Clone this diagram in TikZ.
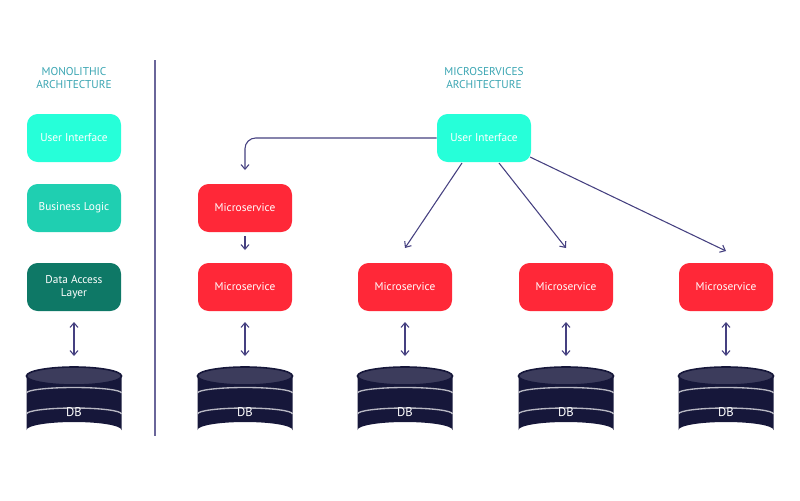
\documentclass[tikz,border=0pt]{standalone}
\usepackage{fontspec}
\setmainfont{PT Sans}
\usetikzlibrary{arrows.meta}
\definecolor{ui}{HTML}{26FFD9}
\definecolor{bl}{HTML}{1FCFB1}
\definecolor{dal}{HTML}{0E7866}
\definecolor{ms}{HTML}{FF2838}
\definecolor{arr}{HTML}{454080}
\definecolor{dbc}{HTML}{16173A}
\definecolor{dbt}{HTML}{3C3C5C}
\definecolor{ttl}{HTML}{3AA5B2}
\begin{document}
\begin{tikzpicture}[x=0.75pt,y=-0.75pt,
 box/.style={rounded corners=8pt,minimum width=70.5pt,minimum height=36pt,text=white,font=\fontsize{8.5}{10}\selectfont,align=center,inner sep=1pt},
 a/.style={draw=arr,line width=0.8pt,-{Straight Barb[length=3.5pt,width=6pt]}},
 aa/.style={draw=arr,line width=0.8pt,{Straight Barb[length=3.5pt,width=6pt]}-{Straight Barb[length=3.5pt,width=6pt]}},
 ttl/.style={text=ttl,font=\fontsize{8.5}{10}\selectfont,align=center}]
\useasboundingbox (0,0) rectangle (800,500);
\newcommand{\dbshape}[2]{%
 \begin{scope}[shift={(#1,0)}]
 \fill[dbc] (-47.5,376) -- (-47.5,430) arc[start angle=180,end angle=360,x radius=47.5,y radius=8] -- (47.5,376) -- cycle;
 \draw[white!70!dbc,line width=1pt] (-47.5,393) arc[start angle=180,end angle=360,x radius=47.5,y radius=5.5];
 \draw[white!70!dbc,line width=1pt] (-47.5,414) arc[start angle=180,end angle=360,x radius=47.5,y radius=6];
 \fill[dbt,draw=dbc,line width=1.2pt] (0,376) ellipse[x radius=47.5,y radius=9];
 \node[text=white,font=\fontsize{9.5}{11}\selectfont] (#2) at (0,412) {DB};
 \end{scope}}
\node[ttl] (t1) at (74,78) {MONOLITHIC\\ARCHITECTURE};
\node[ttl] (t2) at (484,78) {MICROSERVICES\\ARCHITECTURE};
\draw[arr!80!white,line width=0.8pt] (155,60) coordinate (d1) -- (155,436) coordinate (d2);
\node[box,fill=ui] (mui) at (74,138) {User Interface};
\node[box,fill=bl] (mbl) at (74,208) {Business Logic};
\node[box,fill=dal] (mdal) at (74,287) {Data Access\\Layer};
\node[box,fill=ui] (ui) at (484,138) {User Interface};
\node[box,fill=ms] (m0) at (245,208) {Microservice};
\node[box,fill=ms] (m1) at (245,287) {Microservice};
\node[box,fill=ms] (m2) at (405,287) {Microservice};
\node[box,fill=ms] (m3) at (566,287) {Microservice};
\node[box,fill=ms] (m4) at (726,287) {Microservice};
\dbshape{74}{db0}
\dbshape{245}{db1}
\dbshape{405}{db2}
\dbshape{566}{db3}
\dbshape{726}{db4}
\coordinate (c0) at (245,170);
\coordinate (c1) at (245,250);
\coordinate (c2) at (405,248);
\coordinate (c3) at (566,248);
\coordinate (c4) at (726,251);
\draw[a,rounded corners=8pt] (ui.west) -- (245,138) -- (c0);
\draw[a] (245,236) -- (c1);
\draw[a] (462,163) -- (c2);
\draw[a] (499,163) -- (c3);
\draw[a] (530,157) -- (c4);
\foreach \x in {74,245,405,566,726}{\draw[aa] (\x,322) -- (\x,356);}
\end{tikzpicture}
\end{document}
